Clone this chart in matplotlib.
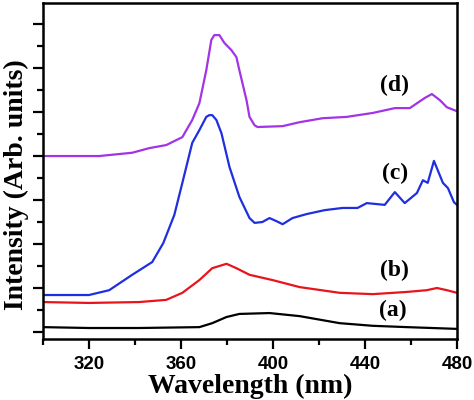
import matplotlib
matplotlib.use("Agg")
import matplotlib.pyplot as plt
from matplotlib.ticker import MultipleLocator, NullFormatter

# (a) black
wl_a = [300, 320, 341.8, 368, 373.6, 379.8, 385.4, 398.5, 411.6, 429.0, 443.4, 458.2, 480]
int_a = [0.11, 0.09, 0.09, 0.11, 0.20, 0.34, 0.41, 0.43, 0.36, 0.20, 0.14, 0.11, 0.07]

# (b) red
wl_b = [300, 320, 341.8, 353.6, 360.6, 368, 373.6, 379.8, 384.1, 389.8, 399.8, 411.6,
        429.0, 443.4, 458.2, 466.9, 471.3, 475.6, 480]
int_b = [0.68, 0.66, 0.68, 0.73, 0.89, 1.18, 1.45, 1.55, 1.45, 1.30, 1.18, 1.02,
         0.89, 0.86, 0.91, 0.95, 1.00, 0.95, 0.89]

# (c) blue
wl_c = [300, 320, 328.8, 338.8, 347.5, 352.3, 357.1, 360.6, 364.9, 368.0, 371.0, 372.3,
        373.6, 375.4, 377.6, 381.1, 385.4, 389.8, 392.0, 395.4, 398.5, 401.5, 404.2, 408.5,
        414.6, 422.5, 430.3, 436.8, 440.8, 448.6, 453.0, 457.3, 462.6, 465.2, 467.3,
        470.0, 473.9, 476.1, 478.7, 480]
int_c = [0.84, 0.84, 0.95, 1.30, 1.59, 2.02, 2.66, 3.39, 4.30, 4.59, 4.89, 4.93,
         4.93, 4.82, 4.52, 3.75, 3.07, 2.59, 2.48, 2.50, 2.59, 2.52, 2.45, 2.59,
         2.68, 2.77, 2.82, 2.82, 2.93, 2.89, 3.18, 2.93, 3.16, 3.45, 3.39,
         3.89, 3.39, 3.27, 2.95, 2.89]

# (d) purple
wl_d = [300, 324.4, 338.8, 346.2, 353.6, 360.6, 364.9, 368.0, 371.0, 373.2, 374.5, 376.7,
        378.9, 381.9, 384.1, 385.4, 388.5, 389.8, 392.0, 393.3, 404.2, 411.6, 421.6, 432.0,
        443.4, 453.0, 459.5, 466.0, 469.1, 472.6, 475.6, 480]
int_d = [4.0, 4.0, 4.075, 4.18, 4.25, 4.43, 4.82, 5.20, 5.95, 6.64, 6.75, 6.75,
         6.57, 6.41, 6.25, 5.95, 5.27, 4.89, 4.70, 4.66, 4.68, 4.77, 4.86, 4.89,
         4.98, 5.09, 5.09, 5.32, 5.41, 5.27, 5.11, 5.02]

labels = ["(a)", "(b)", "(c)", "(d)"]
label_x = [452, 453, 453, 453]
label_y = [0.5, 1.4, 3.6, 5.6]

serif = ["Liberation Serif", "DejaVu Serif"]
sans = ["Liberation Sans", "DejaVu Sans"]

fig = plt.figure(figsize=(4.74, 4.0), dpi=100)
ax = fig.add_axes([0.0907, 0.1525, 0.8733, 0.84])

lw = 1.6
ax.plot(wl_a, int_a, color="#000000", lw=lw)
ax.plot(wl_b, int_b, color="#E8141C", lw=lw)
ax.plot(wl_c, int_c, color="#1F2FE0", lw=lw)
ax.plot(wl_d, int_d, color="#A333E6", lw=lw)

for t, x, y in zip(labels, label_x, label_y):
    ax.text(x, y, t, family=serif, fontweight="bold", fontsize=17,
            ha="center", va="center")

ax.set_xlim(300, 480)
ax.set_ylim(-0.16, 7.48)
ax.set_xticks([320, 360, 400, 440, 480])
ax.xaxis.set_minor_locator(MultipleLocator(20))
ax.yaxis.set_major_locator(MultipleLocator(1))
ax.yaxis.set_minor_locator(MultipleLocator(0.5))
ax.yaxis.set_major_formatter(NullFormatter())

ax.tick_params(axis="both", which="major", direction="out", width=1.6, length=7,
               labelsize=13.5)
ax.tick_params(axis="both", which="minor", direction="out", width=1.6, length=4)
ax.tick_params(axis="x", which="major", pad=5)
for lab in ax.get_xticklabels():
    lab.set_family(sans)
    lab.set_fontweight("bold")

for s in ax.spines.values():
    s.set_linewidth(1.8)

ax.set_xlabel("Wavelength (nm)", family=serif, fontweight="bold", fontsize=20, labelpad=1)
ax.set_ylabel("Intensity (Arb. units)", family=serif, fontweight="bold", fontsize=20)
ax.yaxis.set_label_coords(-0.034, 0.46)

fig.savefig("out.png", dpi=100)
